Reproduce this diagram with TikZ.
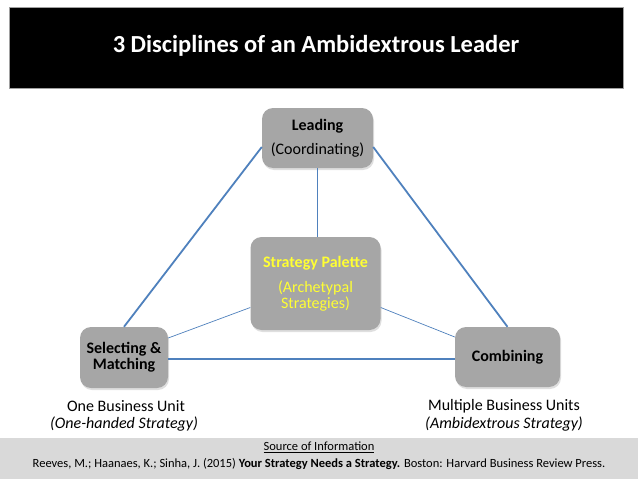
\documentclass[tikz,border=0pt]{standalone}
\usepackage{fontspec}
\setmainfont{Carlito}
\usetikzlibrary{shadows,calc}
\definecolor{boxgray}{HTML}{A6A6A6}
\definecolor{lineblue}{HTML}{4F81BD}
\definecolor{footgray}{HTML}{D9D9D9}
\definecolor{paletteyellow}{HTML}{FFFF33}
\definecolor{framegray}{HTML}{A0A0A0}
\begin{document}
\begin{tikzpicture}[x=1pt,y=-1pt,
  gbox/.style={fill=boxgray, rounded corners=11pt, inner sep=0pt, align=center,
    drop shadow={opacity=0.25, shadow xshift=1pt, shadow yshift=-2pt}},
  boxfont/.style={font=\fontsize{16}{16}\selectfont},
  thickline/.style={draw=lineblue, line width=1.8pt},
  thinline/.style={draw=lineblue, line width=0.7pt},
  label/.style={font=\fontsize{16}{18}\selectfont, inner sep=0pt},
]
\useasboundingbox (0,0) rectangle (638,479);
\fill[white] (0,0) rectangle (638,479);
% title bar
\draw[fill=black, draw=framegray, line width=0.8pt] (9,7) rectangle (623,88);
\node[text=white, font=\fontsize{24.5}{28}\selectfont\bfseries] (title) at (316,46) {3 Disciplines of an Ambidextrous Leader};

% boxes
\node[gbox, boxfont, minimum width=111pt, minimum height=60pt] (L) at (317.5,138)
  {\textbf{Leading}\\[8pt](Coordinating)};
\node[gbox, boxfont, text=paletteyellow, minimum width=130pt, minimum height=93pt] (P) at (315.5,283.5)
  {\textbf{Strategy Palette}\\[9pt](Archetypal\\Strategies)};
\node[gbox, boxfont, minimum width=88pt, minimum height=61pt] (S) at (124,357.5)
  {\textbf{Selecting \&}\\\textbf{Matching}};
\node[gbox, boxfont, minimum width=105pt, minimum height=60pt] (C) at (507.5,357)
  {\textbf{Combining}};

% connectors
\draw[thickline] ($(L.west)+(0,9)$) -- (S.north);
\draw[thickline] ($(L.east)+(0,9)$) -- (C.north);
\draw[thickline] ($(S.east)+(0,1.5)$) -- ($(C.west)+(0,2)$);
\draw[thinline] (L.south -| 317,0) -- (P.north -| 317,0);
\draw[thinline] ($(P.west)+(0,24)$) -- ($(S.east)+(0,-19.5)$);
\draw[thinline] ($(P.east)+(0,24)$) -- ($(C.west)+(0,-20)$);

% labels
\node[label] (l1) at (126,406) {One Business Unit};
\node[label, font=\fontsize{16}{18}\selectfont\itshape] (l2) at (124,424) {(One-handed Strategy)};
\node[label] (r1) at (504,406) {Multiple Business Units};
\node[label, font=\fontsize{16}{18}\selectfont\itshape] (r2) at (504,424) {(Ambidextrous Strategy)};

% footer
\fill[footgray] (0,438) rectangle (638,479);
\node[font=\fontsize{12.5}{14}\selectfont, inner sep=0pt] (src) at (319,447) {\underline{Source of Information}};
\node[font=\fontsize{12.5}{14}\selectfont, inner sep=0pt] (ref) at (319,464)
  {Reeves, M.; Haanaes, K.; Sinha, J. (2015) \textbf{Your Strategy Needs a Strategy.} Boston: Harvard Business Review Press.};
\end{tikzpicture}
\end{document}
